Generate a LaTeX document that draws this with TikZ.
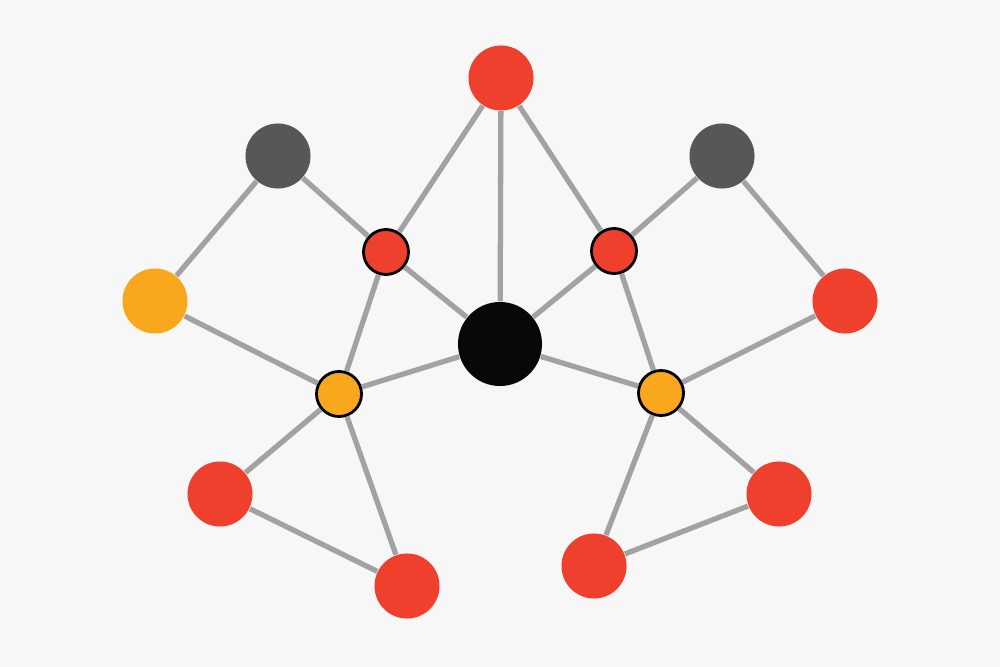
\documentclass[tikz,border=0pt]{standalone}
\definecolor{bgcol}{HTML}{F7F7F7}
\definecolor{edgecol}{HTML}{A2A2A2}
\definecolor{redcol}{HTML}{EE402C}
\definecolor{graycol}{HTML}{575757}
\definecolor{yellowcol}{HTML}{F9A81E}
\definecolor{hubcol}{HTML}{080808}
\begin{document}
\begin{tikzpicture}[x=0.01cm, y=-0.01cm,
    big/.style={circle, inner sep=0pt, minimum size=0.65cm},
    small/.style={circle, inner sep=0pt, minimum size=0.45cm, draw=black, line width=0.8pt},
    link/.style={draw=edgecol, line width=1.5pt}]
    \fill[bgcol] (0,0) rectangle (1000,667);
    \useasboundingbox (0,0) rectangle (1000,667);
    % outer nodes
    \node[big, fill=redcol] (top) at (501,78) {};
    \node[big, fill=graycol] (grayL) at (278,156) {};
    \node[big, fill=graycol] (grayR) at (722,156) {};
    \node[big, fill=yellowcol] (yelL) at (155,301) {};
    \node[big, fill=redcol] (redR) at (845,301) {};
    \node[big, fill=redcol] (redLa) at (220,494) {};
    \node[big, fill=redcol] (redLb) at (407,586) {};
    \node[big, fill=redcol] (redRa) at (779,494) {};
    \node[big, fill=redcol] (redRb) at (594,566) {};
    % hub and inner nodes
    \node[circle, inner sep=0pt, minimum size=0.84cm, fill=hubcol] (hub) at (500,344) {};
    \node[small, fill=redcol] (sredL) at (386,252) {};
    \node[small, fill=redcol] (sredR) at (614,251) {};
    \node[small, fill=yellowcol] (syelL) at (339,394) {};
    \node[small, fill=yellowcol] (syelR) at (661,393) {};
    % links
    \foreach \a/\b in {top/sredL, top/sredR, top/hub, grayL/sredL, grayL/yelL,
        grayR/sredR, grayR/redR, sredL/hub, sredR/hub, sredL/syelL, sredR/syelR,
        yelL/syelL, redR/syelR, hub/syelL, hub/syelR, syelL/redLa, syelL/redLb,
        redLa/redLb, syelR/redRa, syelR/redRb, redRa/redRb}
        \path[link] (\a) -- (\b);
\end{tikzpicture}
\end{document}
